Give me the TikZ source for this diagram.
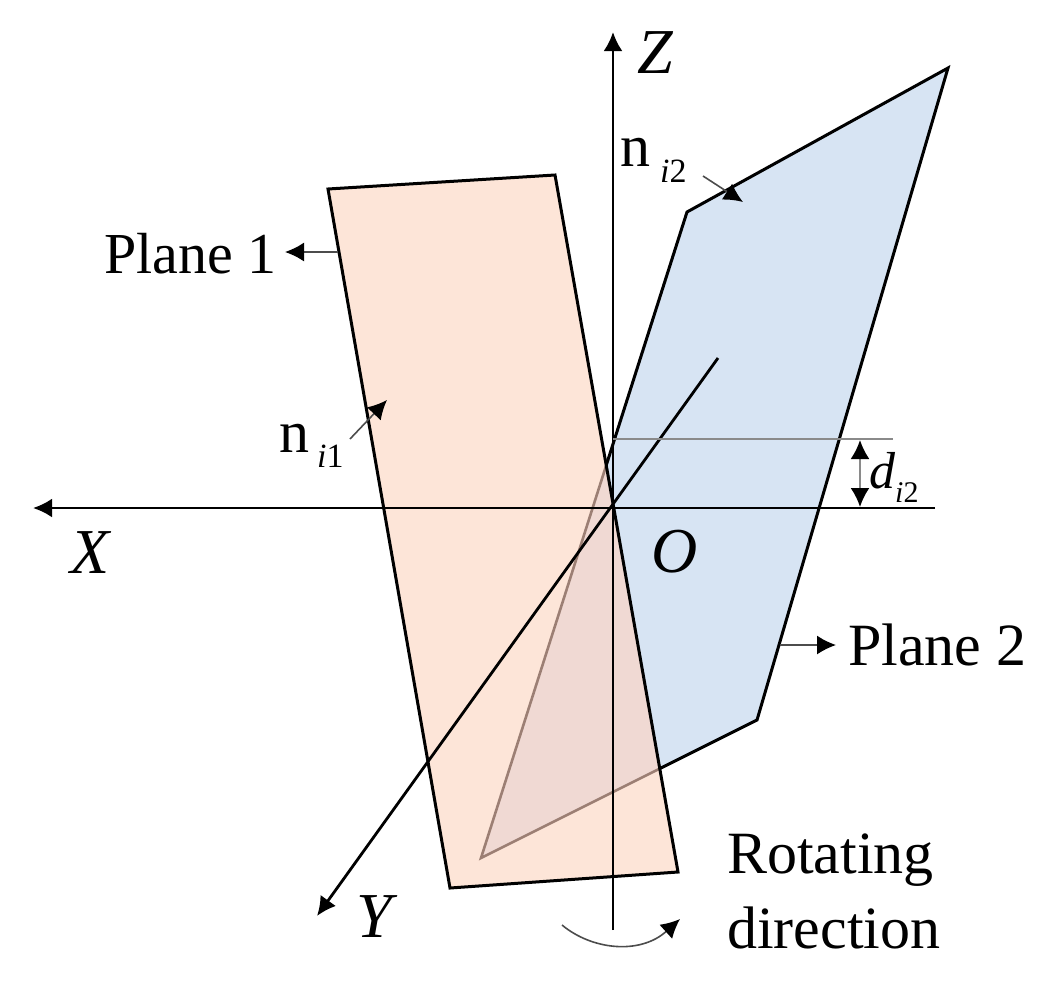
\documentclass[tikz,border=0pt]{standalone}
\usepackage{fontspec}
\setmainfont{Liberation Serif}
\usetikzlibrary{arrows.meta}
\definecolor{planeA}{HTML}{FDE5D8}
\definecolor{planeB}{HTML}{D7E4F3}
\definecolor{planeAB}{HTML}{F0D9D3}
\definecolor{edgeAB}{HTML}{9C7F74}
\definecolor{thinGrey}{HTML}{8A8A8A}
\tikzset{
  x=1pt,y=-1pt,
  planeedge/.style={line width=3pt,line join=miter,draw=black},
  axisline/.style={line width=2.8pt,black},
  thinline/.style={line width=1.6pt,draw=black!70},
  greyline/.style={line width=2.2pt,draw=thinGrey},
  tip/.style={-{Latex[length=19pt,width=19pt,black]}},
  bigtext/.style={inner sep=0pt,anchor=base west,font=\fontsize{60}{60}\selectfont},
  bigital/.style={inner sep=0pt,anchor=base west,font=\fontsize{64}{64}\selectfont\itshape},
  subtext/.style={inner sep=0pt,anchor=base west,font=\fontsize{34}{34}\selectfont},
}
\begin{document}
\begin{tikzpicture}
\useasboundingbox (0,0) rectangle (1064,983);
% plane corners
\coordinate (a1) at (328,189);
\coordinate (a2) at (555,175);
\coordinate (a3) at (678,872);
\coordinate (a4) at (450,888);
\coordinate (b1) at (687,212);
\coordinate (b2) at (948,68);
\coordinate (b3) at (757,720);
\coordinate (b4) at (481,858);
% planes
\path[fill=planeB,planeedge] (b1) -- (b2) -- (b3) -- (b4) -- cycle;
\path[fill=planeA] (a1) -- (a2) -- (a3) -- (a4) -- cycle;
\begin{scope}
  \clip (a1) -- (a2) -- (a3) -- (a4) -- cycle;
  \path[fill=planeAB,draw=edgeAB,line width=2.6pt] (b1) -- (b2) -- (b3) -- (b4) -- cycle;
\end{scope}
\path[planeedge] (a1) -- (a2) -- (a3) -- (a4) -- cycle;
% axes
\coordinate (zTop) at (613,32);
\coordinate (zEnd) at (613,930);
\coordinate (xEnd) at (935,508);
\coordinate (xTip) at (33,508);
\coordinate (yTop) at (718,358);
\coordinate (yTip) at (317,916);
\draw[axisline,tip] (zEnd) -- (zTop);
\draw[axisline,tip] (xEnd) -- (xTip);
\draw[axisline,tip] (yTop) -- (yTip);
% offset d
\coordinate (dA) at (613,439);
\coordinate (dB) at (893,439);
\coordinate (dTop) at (860,440);
\coordinate (dBot) at (860,507);
\draw[greyline] (dA) -- (dB);
\draw[greyline,{Latex[length=19pt,width=19pt,black]}-{Latex[length=19pt,width=19pt,black]}] (dTop) -- (dBot);
% callouts
\coordinate (p1s) at (338,252);
\coordinate (p1t) at (285,252);
\coordinate (p2s) at (780,645);
\coordinate (p2t) at (836,645);
\coordinate (n2s) at (703,176);
\coordinate (n2t) at (743,202);
\coordinate (n1s) at (350,439);
\coordinate (n1t) at (387,400);
\coordinate (r1) at (562,925);
\coordinate (r2) at (680,919);
\draw[thinline,tip] (p1s) -- (p1t);
\draw[thinline,tip] (p2s) -- (p2t);
\draw[thinline,tip] (n2s) -- (n2t);
\draw[thinline,tip] (n1s) -- (n1t);
\draw[thinline,tip] (r1) .. controls (592,950) and (640,955) .. (r2);
% labels
\node[bigital] (lz) at (637,73) {Z};
\node[bigital] (lx) at (70,573) {X};
\node[bigital] (ly) at (356,937) {Y};
\node[bigital] (lo) at (651,572) {O};
\node[bigtext,font=\fontsize{58}{58}\selectfont] (lp1) at (104,273) {Plane 1};
\node[bigtext] (lp2) at (848,665) {Plane 2};
\node[bigtext] (lr1) at (727,873) {Rotating};
\node[bigtext] (lr2) at (727,948) {direction};
\node[bigtext] (ln2) at (620,166) {n};
\node[subtext] (ls2) at (660,182) {\textit{i}2};
\node[bigtext] (ln1) at (279,452) {n};
\node[subtext] (ls1) at (317,467) {\textit{i}1};
\node[inner sep=0pt,anchor=base west,font=\fontsize{52}{52}\selectfont\itshape] (ld) at (869,488) {d};
\node[inner sep=0pt,anchor=base west,font=\fontsize{30}{30}\selectfont] (lds) at (895,502) {\textit{i}2};
\end{tikzpicture}
\end{document}
